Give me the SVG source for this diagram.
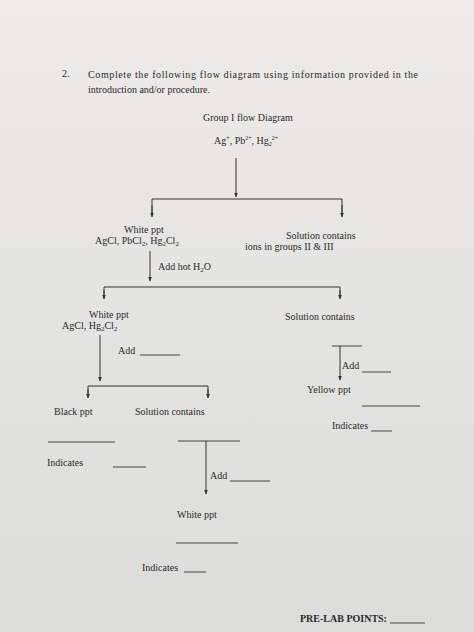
<svg xmlns="http://www.w3.org/2000/svg" width="474" height="632" viewBox="0 0 474 632">
<defs>
<linearGradient id="bg" x1="0" y1="0" x2="0" y2="1">
<stop offset="0" stop-color="#ecebe9"/>
<stop offset="1" stop-color="#dcdcdb"/>
</linearGradient>
<marker id="ah" viewBox="0 0 10 10" refX="9" refY="5" markerWidth="5" markerHeight="5" orient="auto">
<path d="M0,1 L10,5 L0,9 z" fill="#333"/>
</marker>
<style>
text{font-family:"Liberation Serif","Times New Roman",serif;font-size:10px;fill:#2a2a2a}
.b{font-weight:bold}
.ln{stroke:#333;stroke-width:1;fill:none}
.ar{stroke:#333;stroke-width:1;fill:none;marker-end:url(#ah)}
.u{stroke:#333;stroke-width:0.9}
</style>
</defs>
<rect width="474" height="632" fill="url(#bg)"/>
<g id="header">
<text x="62" y="77">2.</text>
<text x="88" y="78" textLength="330" lengthAdjust="spacing">Complete the following flow diagram using information provided in the</text>
<text x="88" y="93">introduction and/or procedure.</text>
<text x="203" y="121" font-size="9.5">Group I flow Diagram</text>
</g>
<g id="connectors">
<line class="ar" x1="236" y1="158" x2="236" y2="197"/>
<polyline class="ln" points="152,213 152,199 342,199 342,213"/>
<line class="ar" x1="152" y1="205" x2="152" y2="217"/>
<line class="ar" x1="342" y1="205" x2="342" y2="217"/>
<line class="ar" x1="150" y1="251" x2="150" y2="281"/>
<polyline class="ln" points="104,296 104,287 340,287 340,296"/>
<line class="ar" x1="104" y1="290" x2="104" y2="299"/>
<line class="ar" x1="340" y1="290" x2="340" y2="299"/>
<line class="ar" x1="100" y1="335" x2="100" y2="381"/>
<line class="u" x1="332" y1="346" x2="362" y2="346"/>
<line class="ar" x1="340" y1="346" x2="340" y2="380"/>
<polyline class="ln" points="88,395 88,386 208,386 208,395"/>
<line class="ar" x1="88" y1="389" x2="88" y2="398"/>
<line class="ar" x1="208" y1="389" x2="208" y2="398"/>
<line class="ar" x1="206" y1="441" x2="206" y2="494"/>
</g>
<g id="n-start">
<text x="214" y="144" font-size="9">Ag<tspan font-size="6" dy="-4">+</tspan><tspan dy="4">, Pb</tspan><tspan font-size="6" dy="-4">2+</tspan><tspan dy="4">, Hg</tspan><tspan font-size="6" dy="2">2</tspan><tspan font-size="6" dy="-6">2+</tspan></text>
</g>
<g id="n-white1">
<text x="124" y="233">White ppt</text>
<text x="95" y="244">AgCl, PbCl<tspan font-size="7" dy="2">2</tspan><tspan dy="-2">, Hg</tspan><tspan font-size="7" dy="2">2</tspan><tspan dy="-2">Cl</tspan><tspan font-size="7" dy="2">2</tspan></text>
</g>
<g id="n-sol1">
<text x="286" y="239">Solution contains</text>
<text x="245" y="250">ions in groups II &amp; III</text>
</g>
<g id="n-hot">
<text x="158" y="270">Add hot H<tspan font-size="7" dy="2">2</tspan><tspan dy="-2">O</tspan></text>
</g>
<g id="n-white2">
<text x="89" y="318">White ppt</text>
<text x="62" y="329">AgCl, Hg<tspan font-size="7" dy="2">2</tspan><tspan dy="-2">Cl</tspan><tspan font-size="7" dy="2">2</tspan></text>
</g>
<g id="n-sol2">
<text x="285" y="320">Solution contains</text>
</g>
<g id="n-add1">
<text x="118" y="354">Add</text>
<line class="u" x1="140" y1="355" x2="180" y2="355"/>
</g>
<g id="n-add2">
<text x="342" y="369">Add</text>
<line class="u" x1="362" y1="372" x2="391" y2="372"/>
</g>
<g id="n-yellow">
<text x="307" y="393">Yellow ppt</text>
<line class="u" x1="362" y1="406" x2="420" y2="406"/>
<text x="332" y="429">Indicates</text>
<line class="u" x1="371" y1="431" x2="392" y2="431"/>
</g>
<g id="n-black">
<text x="54" y="415">Black ppt</text>
<line class="u" x1="48" y1="442" x2="115" y2="442"/>
<text x="47" y="466">Indicates</text>
<line class="u" x1="113" y1="467" x2="146" y2="467"/>
</g>
<g id="n-sol3">
<text x="135" y="415">Solution contains</text>
<line class="u" x1="178" y1="441" x2="240" y2="441"/>
</g>
<g id="n-add3">
<text x="210" y="479">Add</text>
<line class="u" x1="230" y1="481" x2="270" y2="481"/>
</g>
<g id="n-white3">
<text x="177" y="518">White ppt</text>
<line class="u" x1="176" y1="543" x2="238" y2="543"/>
<text x="142" y="571">Indicates</text>
<line class="u" x1="184" y1="572" x2="206" y2="572"/>
</g>
<g id="footer">
<text class="b" x="300" y="622" font-size="10.5">PRE-LAB POINTS:</text>
<line class="u" x1="390" y1="623" x2="425" y2="623" stroke-width="1.2"/>
</g>
</svg>
